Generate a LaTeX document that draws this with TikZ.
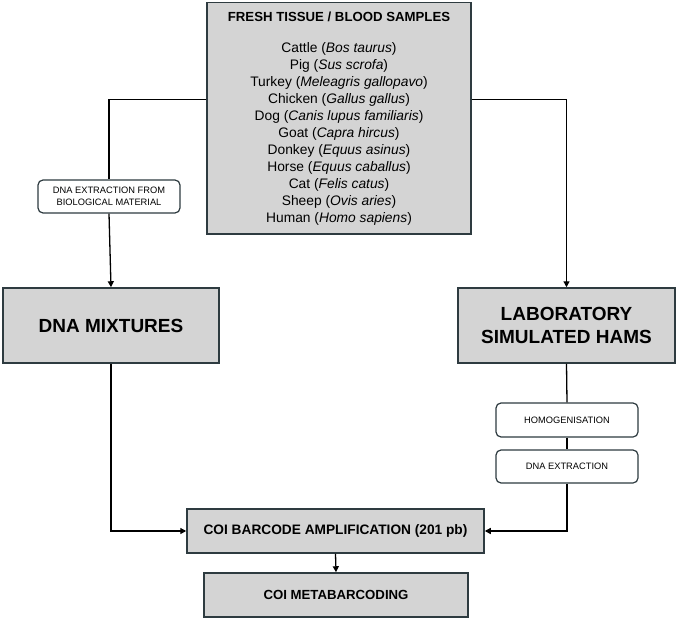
\documentclass[tikz,border=0pt]{standalone}
\usepackage{fontspec}
\setmainfont{Liberation Sans}
\usetikzlibrary{arrows.meta}
\definecolor{edgegray}{HTML}{2E3B40}
\definecolor{boxgray}{HTML}{D4D4D4}

\begin{document}
\begin{tikzpicture}[x=1pt, y=-1pt, line width=1.3pt,
  graybox/.style={draw=edgegray, fill=boxgray, line width=1.5pt, align=center,
    inner sep=0pt, font=\bfseries},
  stepbox/.style={draw=edgegray, fill=white, rounded corners=5pt, line width=1.2pt,
    align=center, inner sep=0pt, font=\fontsize{9.3}{11.5}\selectfont},
  arr/.style={-{Triangle[length=6pt,width=6pt]}}]
  \useasboundingbox (0,0) rectangle (685,631);
  \node[graybox, minimum width=264pt, minimum height=231pt, anchor=north,
    font=\fontsize{13.8}{17}\selectfont] (top) at (339,2)
    {\textbf{\fontsize{13.2}{15}\selectfont FRESH TISSUE / BLOOD SAMPLES}\\[14pt]
     Cattle (\textit{Bos taurus})\\
     Pig (\textit{Sus scrofa})\\
     Turkey (\textit{Meleagris gallopavo})\\
     Chicken (\textit{Gallus gallus})\\
     Dog (\textit{Canis lupus familiaris})\\
     Goat (\textit{Capra hircus})\\
     Donkey (\textit{Equus asinus})\\
     Horse (\textit{Equus caballus})\\
     Cat (\textit{Felis catus})\\
     Sheep (\textit{Ovis aries})\\
     Human (\textit{Homo sapiens})};
  \node[stepbox, minimum width=142pt, minimum height=33pt] (extract) at (109,196.5)
    {DNA EXTRACTION FROM\\BIOLOGICAL MATERIAL};
  \node[graybox, minimum width=216pt, minimum height=75pt,
    font=\bfseries\fontsize{19}{23}\selectfont] (mix) at (111,325.5) {DNA MIXTURES};
  \node[graybox, minimum width=217pt, minimum height=75pt,
    font=\bfseries\fontsize{19}{23}\selectfont] (lab) at (566.5,325.5)
    {LABORATORY\\SIMULATED HAMS};
  \node[stepbox, minimum width=142pt, minimum height=34pt] (homog) at (567,420)
    {HOMOGENISATION};
  \node[stepbox, minimum width=142pt, minimum height=33pt] (dnaext) at (567,466.5)
    {DNA EXTRACTION};
  \node[graybox, minimum width=297pt, minimum height=44pt,
    font=\bfseries\fontsize{13.7}{16}\selectfont] (coi) at (335.5,531)
    {COI BARCODE AMPLIFICATION (201 pb)};
  \node[graybox, minimum width=264pt, minimum height=44pt,
    font=\bfseries\fontsize{13.2}{15}\selectfont] (meta) at (336,595)
    {COI METABARCODING};
  % connectors
  \draw ([yshift=18.5pt]top.west) -| (extract.north);
  \draw[arr] (extract.south) -- (mix.north);
  \draw[arr] ([yshift=18.5pt]top.east) -| (lab.north);
  \draw (lab.south) -- (homog.north);
  \draw (homog.south) -- (dnaext.north);
  \draw[arr] (dnaext.south) |- (coi.east);
  \draw[arr] (mix.south) |- (coi.west);
  \draw[arr] (coi.south) -- (meta.north);
\end{tikzpicture}
\end{document}
